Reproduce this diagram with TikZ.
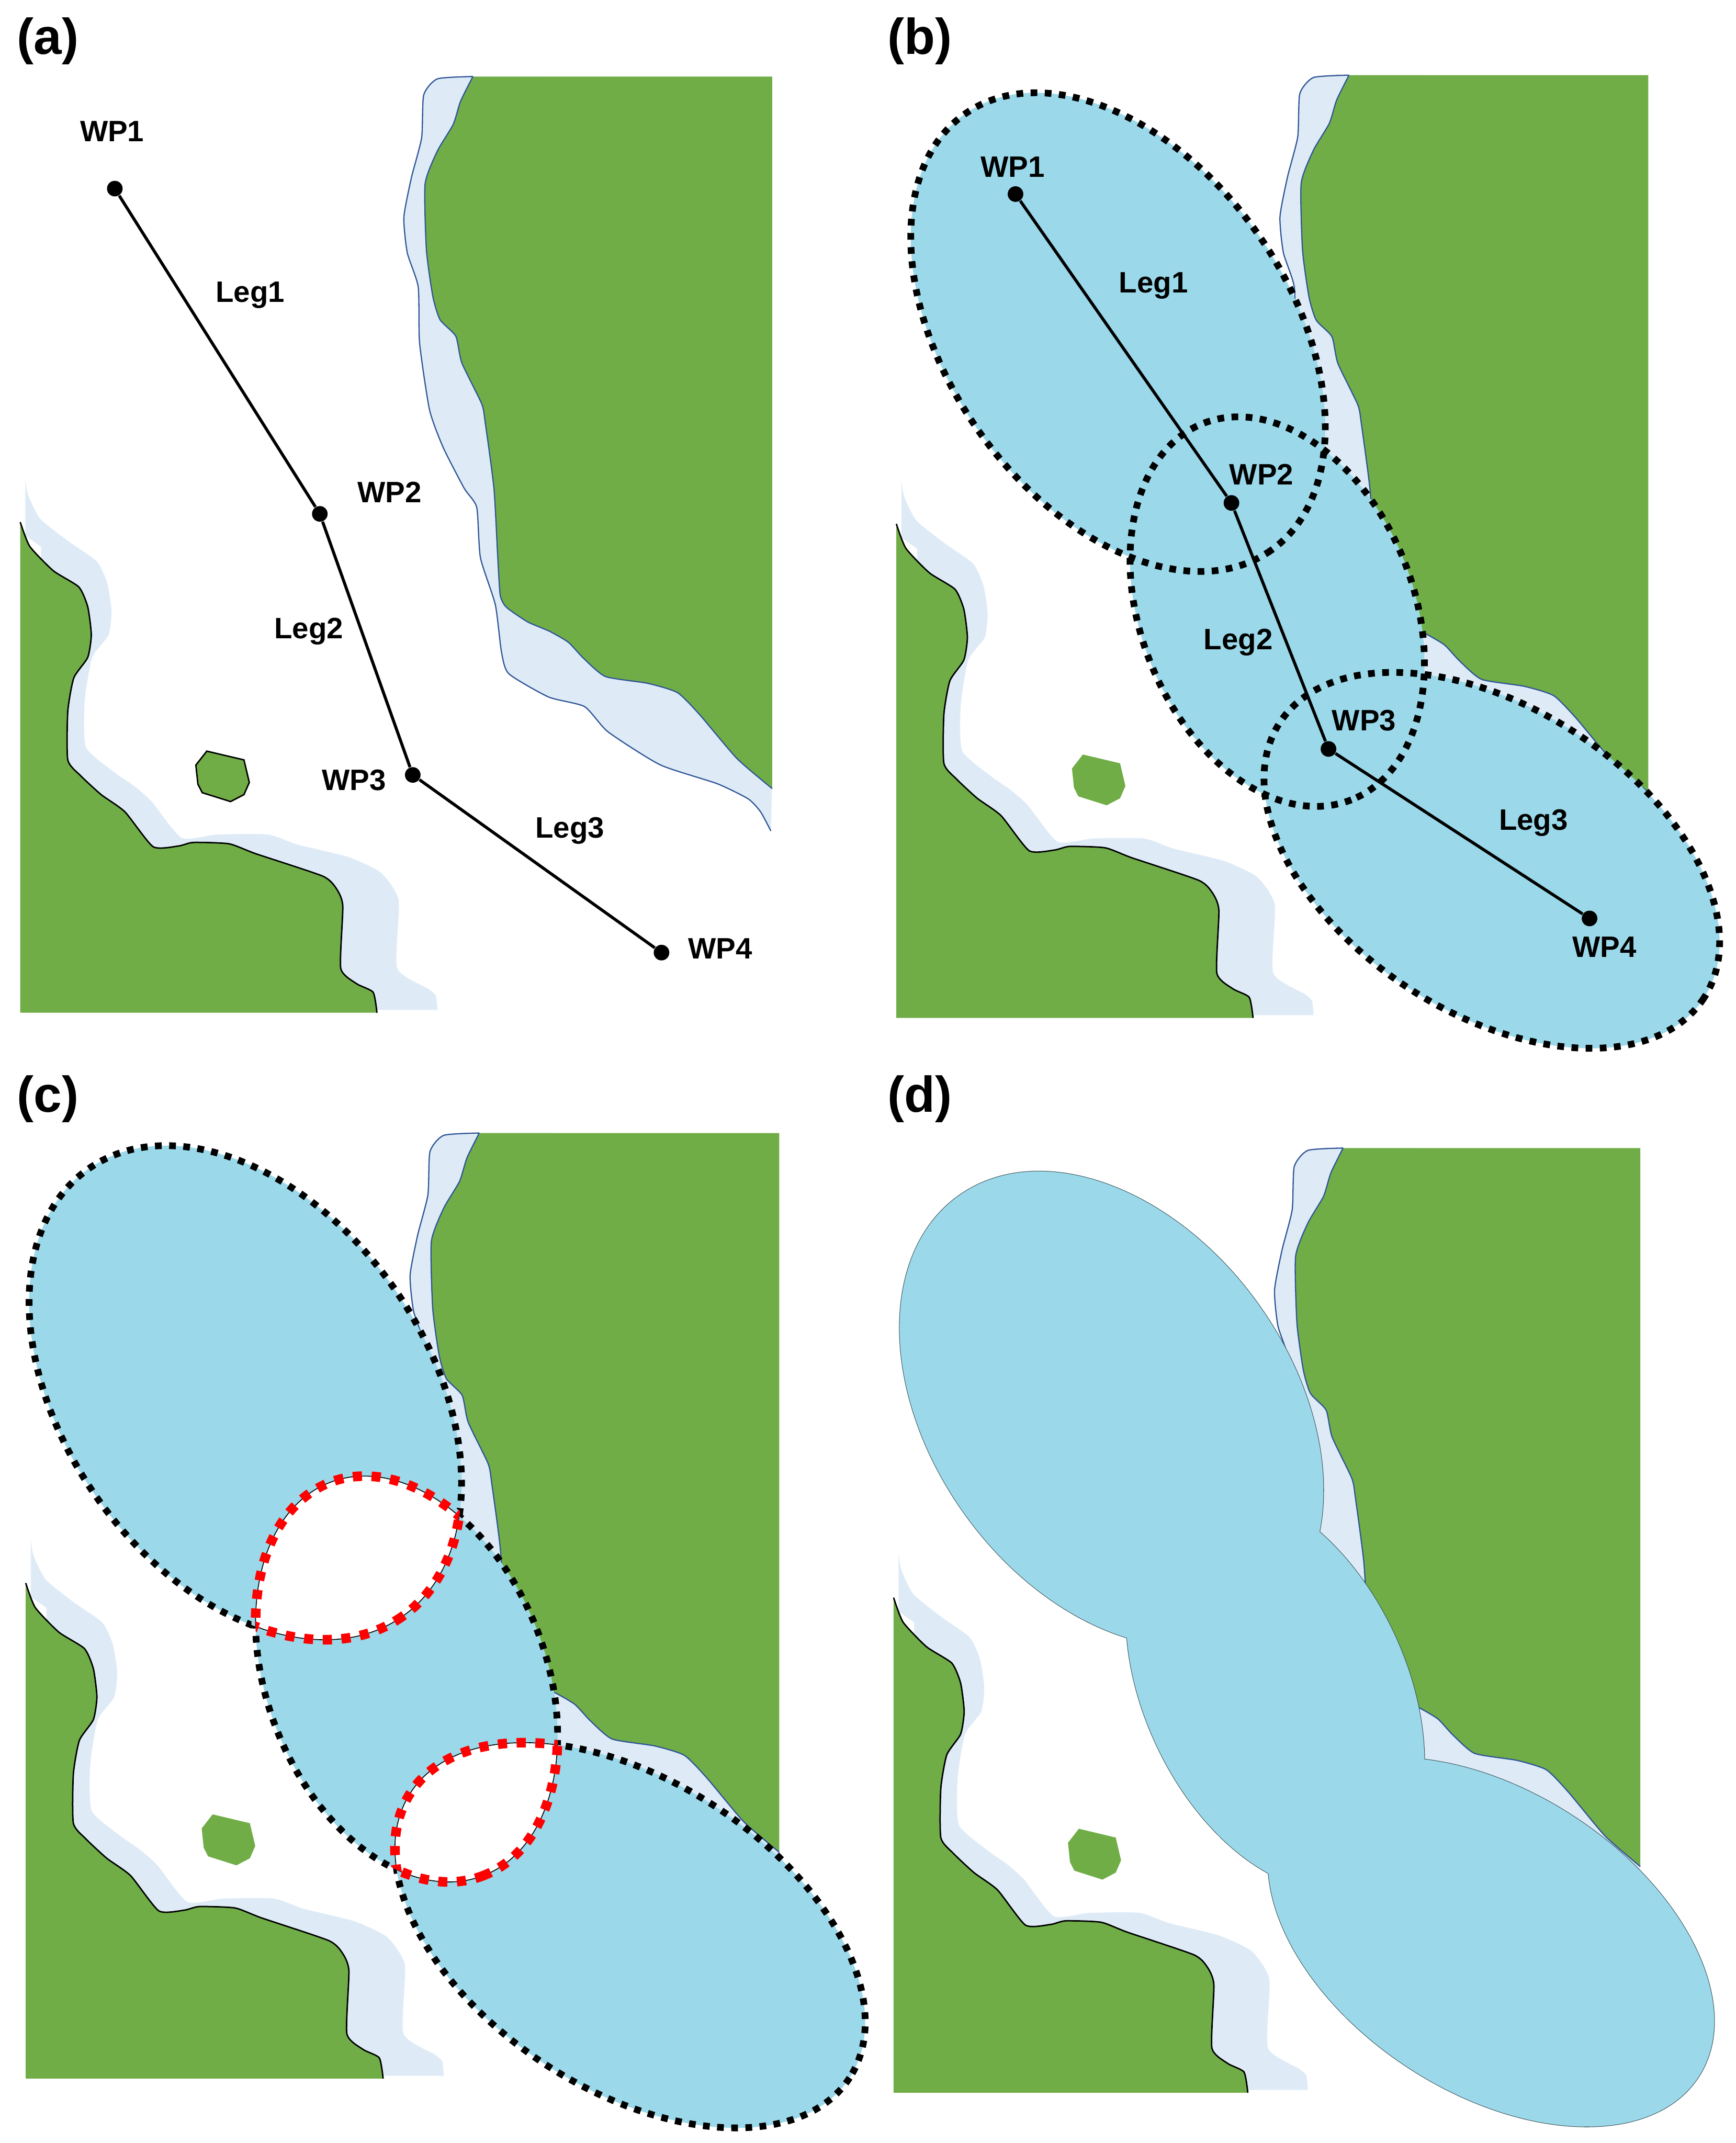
\documentclass[tikz,border=0pt]{standalone}
\usepackage{fontspec}
\setmainfont{Liberation Sans}
\definecolor{landGreen}{HTML}{70AD47}
\definecolor{shoalBlue}{HTML}{DEEBF7}
\definecolor{coastBlue}{HTML}{2F5597}
\definecolor{legBlue}{HTML}{9BD9EA}
\tikzset{
  wpdot/.style={circle, fill=black, inner sep=0pt, minimum size=6.5pt},
  leglabel/.style={font=\fontsize{12.3}{14}\selectfont\bfseries, inner sep=0pt},
  panellabel/.style={font=\fontsize{21}{24}\selectfont\bfseries, inner sep=0pt},
  legline/.style={line width=1.25pt, draw=black},
  legarea/.style={fill=legBlue},
  legedge/.style={draw=black, line width=2.8pt, dash pattern=on 2.8pt off 3.1pt},
  gapedge/.style={draw=red, line width=4pt, dash pattern=on 3.8pt off 4pt},
  gapline/.style={draw=black, line width=0.35pt},
  gapcover/.style={draw=legBlue, line width=3.4pt},
  unionedge/.style={draw=black!65!legBlue, line width=0.45pt},
  % --- shoreline lines ---
  eastline/.style={draw=coastBlue, line width=0.5pt},
  westline/.style={draw=black, line width=0.6pt},
}
% shorelines of one panel, in the coordinates of panel (a)
\newcommand{\eastshore}{plot[smooth, tension=0.35] coordinates {(565,577) (539.2,555) (512,523) (495.7,506.8) (474,500) (443,495) (426.8,481.5) (415.9,470) (402.3,462) (386,455) (370.5,444.3) (366,435.5) (364.2,408) (361.4,357.4) (355,309) (352.4,295.4) (337.9,265.5) (333.5,246) (322,234) (316.7,217) (312,183) (311,134.7) (320,110.5) (331.6,91) (337,74) (346,56)}}
\newcommand{\eastshoal}{plot[smooth, tension=0.35] coordinates {(346,56) (320,57.7) (310,69.5) (308.5,100.8) (301,130) (295.5,159) (298,185) (306,210) (307,251) (314.3,300) (324.3,327.5) (339.7,357.4) (348.8,371.2) (351.5,408) (362.4,442.4) (366.9,477) (372.3,493) (401.4,510) (427.7,517) (444.9,535.5) (483,559.6) (524.7,573.4) (547.4,584.5) (556.5,594) (564,608)}}
\newcommand{\westshore}{plot[smooth, tension=0.35] coordinates {(14.8,382) (21.8,399.8) (39,417.6) (57.7,429.5) (64.2,444) (66.8,464.5) (64.2,481) (54,496) (49.6,520.4) (49.6,556) (58.8,567.4) (74,581.4) (91.4,594) (112,619.5) (130.6,619) (141.5,616.4) (167.6,617.4) (187,624.6) (236,641) (246,650) (250.8,662.7) (249.3,708.4) (261,719.8) (273,726) (275.8,741)}}
\newcommand{\westshoal}{plot[smooth, tension=0.35] coordinates {(18.5,350) (20.5,362) (29.4,379.5) (50,396) (70.8,410.7) (78.4,426.4) (81.6,446.8) (79.5,464.5) (67.5,481) (62,512.8) (63,547) (85,566) (98,575) (111,586.5) (132.8,613) (159,610.6) (196,610.6) (217.7,618) (254.7,627) (278.7,638.5) (291.7,658.8) (290.6,708.4) (313.5,723.6) (319,728.7) (320,739)}}
\newcommand{\islet}{(151.3,549.6) -- (178.5,556) -- (182.4,572.5) -- (178.5,581.4) -- (168.7,586.5) -- (148,580) -- (144.8,573.8) -- (143.3,559.8) -- cycle}
\newcommand{\coastmap}[2]{%
  \begin{scope}[#1]
    \fill[shoalBlue] \eastshoal -- (565,570) -- (450,300) -- (400,56) -- cycle;
    \draw[eastline] \eastshoal;
    \fill[landGreen] \eastshore -- (565,56) -- cycle;
    \draw[eastline] \eastshore;
    \fill[shoalBlue] \westshoal -- (200,739) -- (100,650) -- (30,560) -- (30,400) -- (18.5,392) -- cycle;
    \fill[landGreen] \westshore -- (14.8,741) -- cycle;
    \draw[westline] \westshore;
    \path[fill=landGreen, #2] \islet;
  \end{scope}}
% areas of the legs in (c)
\newcommand{\areaone}{(179.5,1019) ellipse [x radius=200, y radius=133, rotate=-55]}
\newcommand{\areatwo}{(297.5,1228.5) ellipse [x radius=154.4, y radius=102, rotate=-68.5]}
\newcommand{\areathree}{(461,1416) ellipse [x radius=191.5, y radius=113, rotate=-33]}
\newcommand{\gaparcs}[1]{%
  \begin{scope}
    \clip \areatwo;
    \draw[#1] \areaone;
    \draw[#1] \areathree;
  \end{scope}
  \begin{scope}
    \clip \areaone;
    \draw[#1] \areatwo;
  \end{scope}
  \begin{scope}
    \clip \areathree;
    \draw[#1] \areatwo;
  \end{scope}}

\begin{document}
\begin{tikzpicture}[x=0.02cm,y=-0.02cm]
  \useasboundingbox (0,0) rectangle (1270,1568);

  % (a)
  \node[panellabel] (pa) at (35,30) {(a)};
  \coastmap{}{draw=black, line width=0.6pt}
  \node[wpdot] (a1) at (84,138) {};
  \node[wpdot] (a2) at (234,376) {};
  \node[wpdot] (a3) at (302,567) {};
  \node[wpdot] (a4) at (484,697) {};
  \draw[legline] (a1) -- (a2);
  \draw[legline] (a2) -- (a3);
  \draw[legline] (a3) -- (a4);
  \node[leglabel] (wa1) at (82,96) {WP1};
  \node[leglabel] (wa2) at (285,360) {WP2};
  \node[leglabel] (wa3) at (259,571) {WP3};
  \node[leglabel] (wa4) at (527,694) {WP4};
  \node[leglabel] (la1) at (183,216) {Leg1};
  \node[leglabel] (la2) at (226,462) {Leg2};
  \node[leglabel] (la3) at (417,608) {Leg3};

  % (b)
  \node[panellabel] (pb) at (673,30) {(b)};
  \coastmap{shift={(655,55)},yscale=1.007,shift={(-14,-56)}}{}
  \path[legarea] (818,243) ellipse [x radius=195, y radius=125, rotate=-55];
  \path[legarea] (934.5,447.5) ellipse [x radius=148, y radius=100, rotate=-68.5];
  \path[legarea] (1091.5,629.5) ellipse [x radius=185, y radius=111.6, rotate=-33];
  \draw[legedge] (818,243) ellipse [x radius=195, y radius=125, rotate=-55];
  \draw[legedge] (934.5,447.5) ellipse [x radius=148, y radius=100, rotate=-68.5];
  \draw[legedge] (1091.5,629.5) ellipse [x radius=185, y radius=111.6, rotate=-33];
  \node[wpdot] (b1) at (743,142) {};
  \node[wpdot] (b2) at (901,368) {};
  \node[wpdot] (b3) at (972,548) {};
  \node[wpdot] (b4) at (1163,672) {};
  \draw[legline] (b1) -- (b2);
  \draw[legline] (b2) -- (b3);
  \draw[legline] (b3) -- (b4);
  \node[leglabel] (wb1) at (741,122) {WP1};
  \node[leglabel] (wb2) at (923,347) {WP2};
  \node[leglabel] (wb3) at (998,527) {WP3};
  \node[leglabel] (wb4) at (1174,693) {WP4};
  \node[leglabel] (lb1) at (844,209) {Leg1};
  \node[leglabel] (lb2) at (906,470) {Leg2};
  \node[leglabel] (lb3) at (1122,602) {Leg3};

  % (c)
  \node[panellabel] (pc) at (35,804) {(c)};
  \coastmap{shift={(18,829)},xscale=1.002,yscale=1.01,shift={(-14,-56)}}{}
  \path[legarea] \areaone;
  \path[legarea] \areatwo;
  \path[legarea] \areathree;
  \draw[legedge] \areaone;
  \draw[legedge] \areatwo;
  \draw[legedge] \areathree;
  % red only along the overlaps
  \gaparcs{gapcover}
  \begin{scope}
    \clip \areaone;
    \fill[white] \areatwo;
  \end{scope}
  \begin{scope}
    \clip \areatwo;
    \fill[white] \areathree;
  \end{scope}
  \gaparcs{gapline}
  \gaparcs{gapedge}

  % (d)
  \node[panellabel] (pd) at (673,804) {(d)};
  \coastmap{shift={(653,840)},xscale=0.993,yscale=1.009,shift={(-14,-56)}}{}
  \draw[unionedge] (813.25,1031) ellipse [x radius=192, y radius=132, rotate=-54.3];
  \draw[unionedge] (933,1236) ellipse [x radius=156, y radius=96, rotate=-65];
  \draw[unionedge] (1091,1421) ellipse [x radius=181, y radius=110, rotate=-33];
  \path[legarea] (813.25,1031) ellipse [x radius=192, y radius=132, rotate=-54.3];
  \path[legarea] (933,1236) ellipse [x radius=156, y radius=96, rotate=-65];
  \path[legarea] (1091,1421) ellipse [x radius=181, y radius=110, rotate=-33];
\end{tikzpicture}
\end{document}
